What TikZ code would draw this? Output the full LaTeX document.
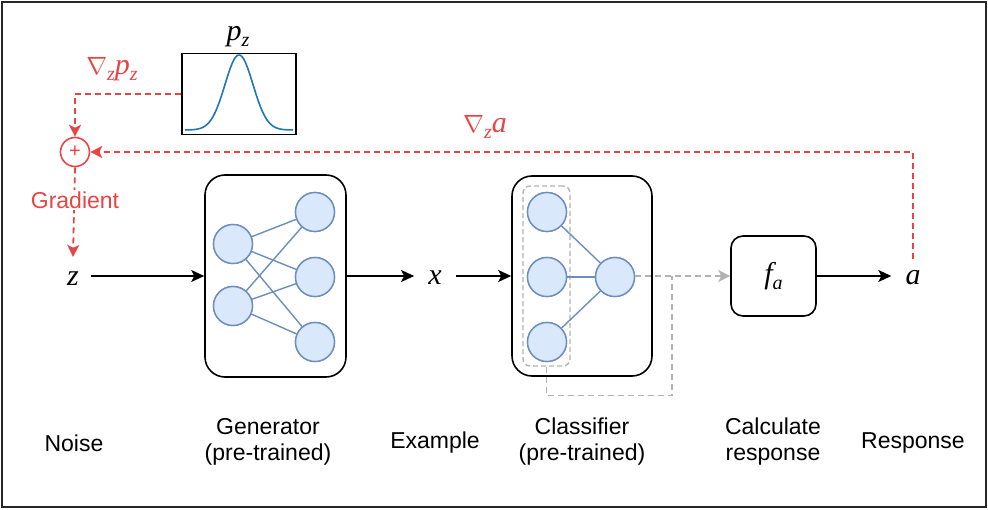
\RequirePackage{fix-cm}
\documentclass[tikz,border=0pt]{standalone}
\usepackage{fontspec}
\newfontfamily\labfont{Liberation Sans}
\newfontfamily\mathfnt{Liberation Serif}
\usetikzlibrary{arrows.meta,shapes.geometric}
\definecolor{rd}{RGB}{232,68,68}
\definecolor{nblue}{RGB}{108,142,191}
\definecolor{nfill}{RGB}{218,232,252}
\definecolor{gr}{RGB}{178,178,178}
\definecolor{gblue}{RGB}{31,119,180}
\newcommand\vv[1]{{\mathfnt\itshape #1}}
\newcommand\sbs[1]{\raisebox{-0.2em}{\fontsize{20}{20}\selectfont\mathfnt\itshape #1}}
\newcommand\nab{{\fontsize{25}{25}\selectfont$\nabla$}}
\begin{document}
\begin{tikzpicture}[x=1pt,y=-1pt,
  lab/.style={font=\labfont\fontsize{23}{26}\selectfont, align=center},
  mth/.style={font=\fontsize{30}{34}\selectfont},
  neuron/.style={circle, draw=nblue, fill=nfill, line width=1.4pt, minimum size=39pt, inner sep=0pt},
  wire/.style={draw=nblue, line width=1.4pt},
  netbox/.style={draw=black, line width=1.6pt, rounded corners=20pt, inner sep=0pt},
  arr/.style={line width=1.5pt, -{Stealth[length=13pt,width=12pt,inset=3pt]}},
  reddash/.style={draw=rd, line width=1.8pt, dash pattern=on 6pt off 4pt, -{Stealth[length=12pt,width=12pt,inset=3pt]}},
  greydash/.style={draw=gr, line width=1.6pt, dash pattern=on 6pt off 4pt}]
\useasboundingbox (0,0) rectangle (988,510);
\draw[line width=1.5pt, draw=black!85] (2,2) rectangle (986,507);

% main boxes
\node[netbox, minimum width=141pt, minimum height=202pt] (gen) at (275.5,276) {};
\node[netbox, minimum width=140pt, minimum height=200pt] (cls) at (582,276) {};
\node[netbox, rounded corners=12pt, minimum width=85pt, minimum height=80pt, font=\fontsize{30}{34}\selectfont] (fa) at (773.5,276) {\vv{f}\sbs{a}};

% variables
\node[mth, inner sep=12pt] (z) at (73,279) {\vv{z}};
\node[mth, inner sep=14pt] (x) at (435,278) {\vv{x}};
\node[mth, inner sep=14pt] (a) at (913,278) {\vv{a}};

% generator network
\node[neuron] (g1) at (233,244) {};
\node[neuron] (g2) at (233,306) {};
\node[neuron] (g3) at (315,212) {};
\node[neuron] (g4) at (315,277) {};
\node[neuron] (g5) at (315,342) {};
\foreach \i in {g1,g2}{\foreach \j in {g3,g4,g5}{\draw[wire] (\i) -- (\j);}}
\foreach \i in {g1,g2,g3,g4,g5}{\node[neuron] at (\i) {};}

% classifier network
\node[draw=gr, line width=1.4pt, dash pattern=on 5pt off 3pt, rounded corners=7pt, minimum width=47pt, minimum height=180pt, inner sep=0pt] (grp) at (546.5,276) {};
\node[neuron] (c1) at (547,212) {};
\node[neuron] (c2) at (547,277) {};
\node[neuron] (c3) at (547,342) {};
\node[neuron] (c4) at (615,277) {};
\foreach \i in {c1,c2,c3}{\draw[wire] (\i) -- (c4);}
\foreach \i in {c1,c2,c3,c4}{\node[neuron] at (\i) {};}

% main arrows
\draw[arr] (z.east |- gen.west) -- (gen.west);
\draw[arr] (gen.east) -- (x.west |- gen.east);
\draw[arr] (x.east |- cls.west) -- (cls.west);
\draw[arr] (fa.east) -- (a.west |- fa.east);

% grey dashed
\coordinate (j) at (672,276);
\draw[greydash, -{Stealth[length=12pt,width=12pt,inset=3pt]}] (c4.east |- fa.west) -- (fa.west);
\draw[greydash] (grp.south) -- ++(0,29) -| (j);

% p_z box
\node[draw=black, line width=1.6pt, minimum width=114pt, minimum height=81pt, inner sep=0pt] (pz) at (239,94) {};
\draw[gblue, line width=1.6pt, domain=-54:54, samples=90, smooth] plot ({239+\x}, {130-75*exp(-(\x*\x)/(2*14*14))});
\node[mth] (pzl) at (238,37) {\vv{p}\sbs{z}};

% gradient part
\node[circle, draw=rd, line width=1.6pt, minimum size=29pt, inner sep=0pt, text=rd, font=\labfont\fontsize{20}{20}\selectfont] (plus) at (75,152) {+};
\node[mth, text=rd] (gpz) at (112,69) {\nab\sbs{z}\vv{p}\sbs{z}};
\node[mth, text=rd] (ga) at (485,127) {\nab\sbs{z}\vv{a}};
\draw[reddash] (pz.west) -| (plus.north);
\draw[reddash] ([yshift=-2pt]a.north) |- (plus.east);
\draw[reddash] (plus.south) -- ([yshift=3pt]z.north);
\node[lab, text=rd, fill=white, inner sep=2pt] (grad) at (75,200) {Gradient};

% bottom labels
\node[lab] (l1) at (74,443) {Noise};
\node[lab] (l2) at (268,442) {Generator\\(pre-trained)};
\node[lab] (l3) at (435,443) {Example};
\node[lab] (l4) at (582,442) {Classifier\\(pre-trained)};
\node[lab] (l5) at (773,442) {Calculate\\response};
\node[lab] (l6) at (913,443) {Response};
\end{tikzpicture}
\end{document}
